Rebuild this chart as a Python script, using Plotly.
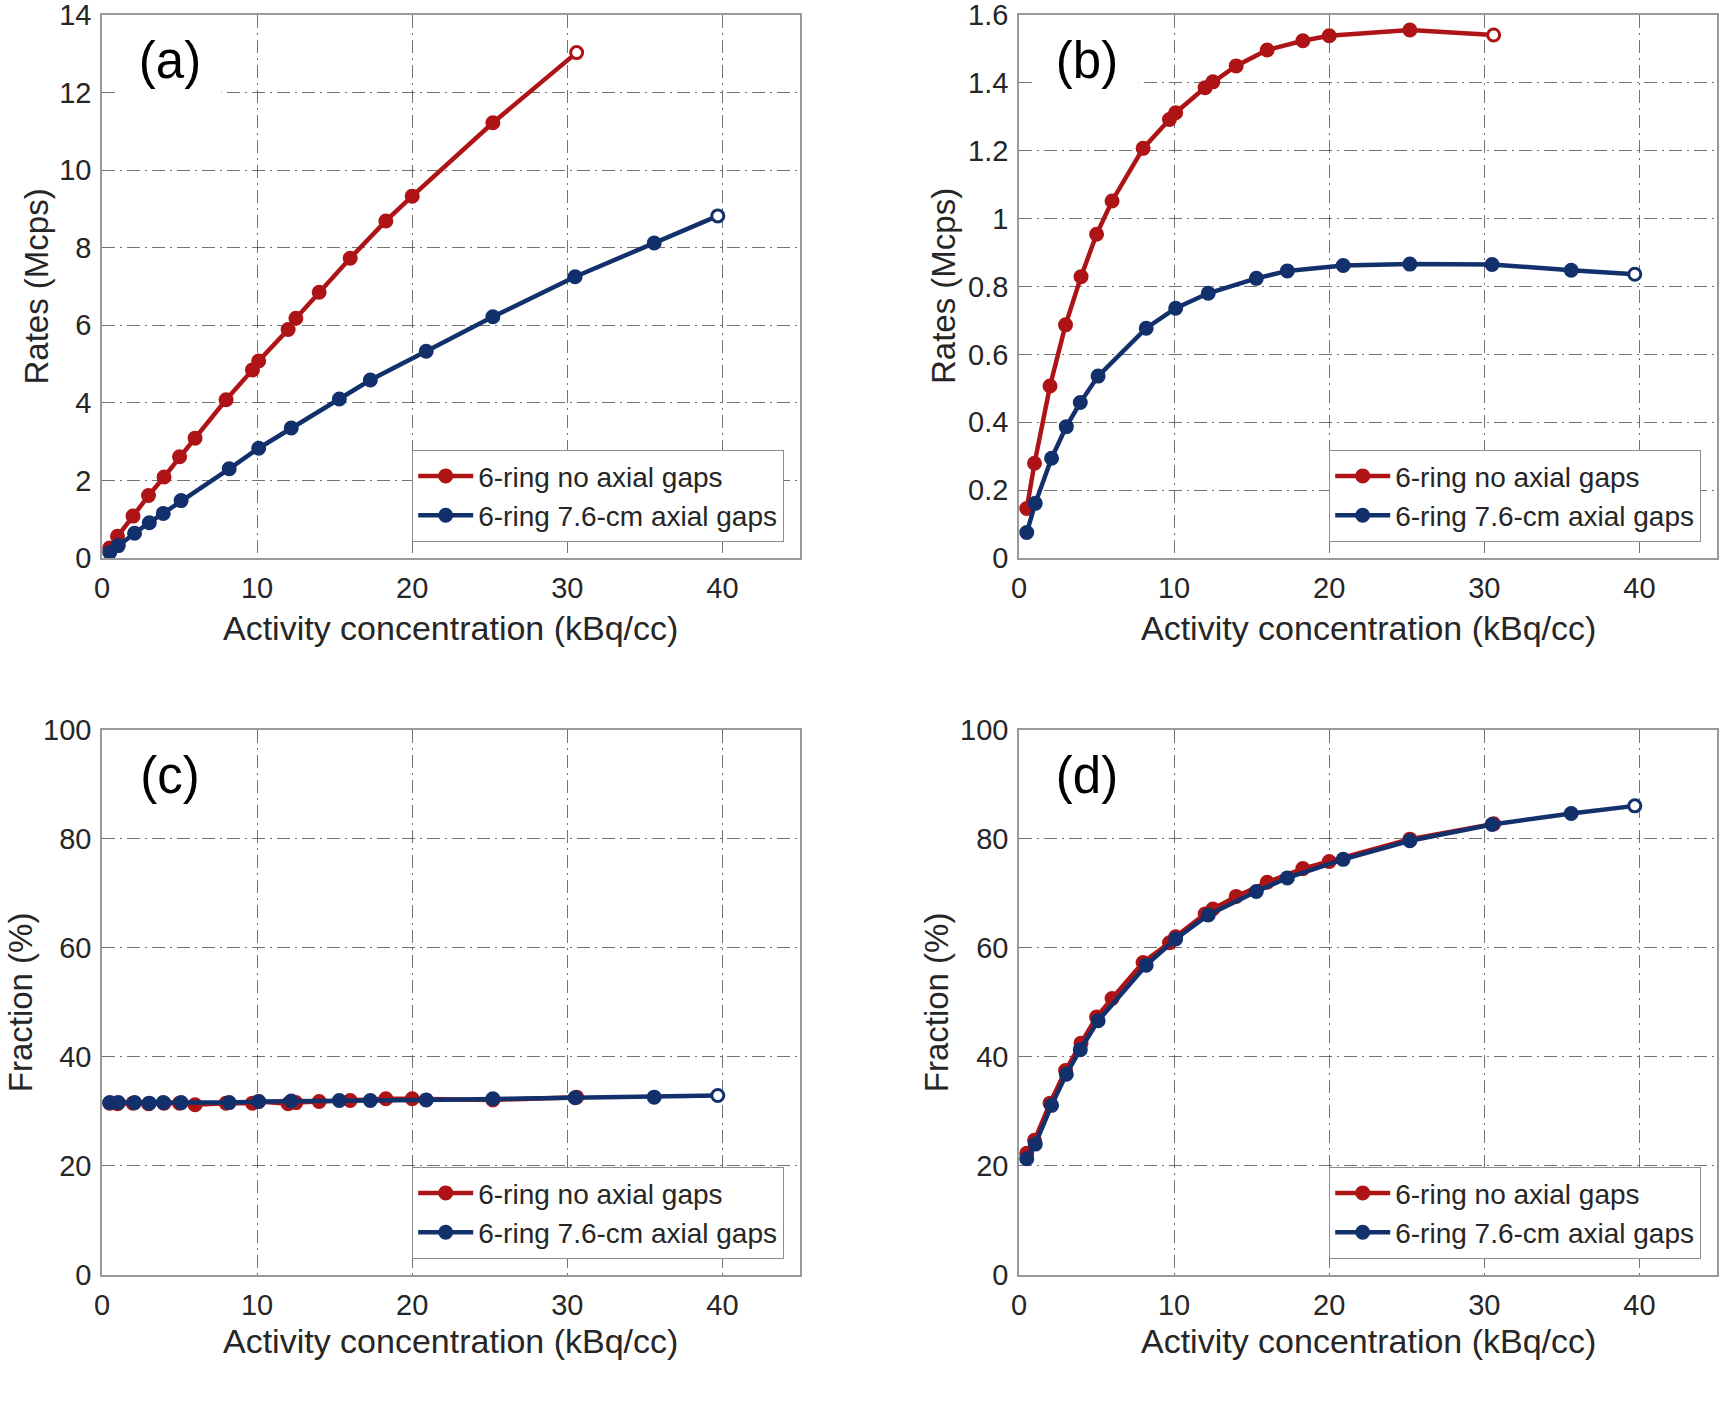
import plotly.graph_objects as go

# ---------------- data ----------------
x_noGap = [0.5, 1.0, 2.0, 3.0, 4.0, 5.0, 6.0, 8.0, 9.7, 10.1, 12.0, 12.5, 14.0, 16.0, 18.3, 20.0, 25.2, 30.6]
x_gap = [0.5, 1.05, 2.1, 3.05, 3.95, 5.1, 8.2, 10.1, 12.2, 15.3, 17.3, 20.9, 25.2, 30.5, 35.6, 39.7]

a_noGap = [0.26, 0.56, 1.08, 1.61, 2.09, 2.61, 3.09, 4.08, 4.85, 5.08, 5.89, 6.18, 6.85, 7.73, 8.69, 9.33, 11.22, 13.03]
a_gap = [0.14, 0.32, 0.64, 0.91, 1.15, 1.48, 2.30, 2.83, 3.35, 4.10, 4.59, 5.33, 6.22, 7.25, 8.12, 8.82]

b_noGap = [0.146, 0.279, 0.507, 0.687, 0.829, 0.954, 1.052, 1.207, 1.292, 1.312, 1.386, 1.403, 1.450, 1.497, 1.524, 1.539, 1.556, 1.541]
b_gap = [0.075, 0.161, 0.294, 0.387, 0.458, 0.536, 0.677, 0.736, 0.780, 0.824, 0.846, 0.862, 0.866, 0.865, 0.848, 0.836]

c_noGap = [31.5, 31.4, 31.5, 31.4, 31.5, 31.5, 31.2, 31.5, 31.5, 31.8, 31.4, 31.6, 31.8, 32.0, 32.3, 32.3, 32.1, 32.6]
c_gap = [31.6, 31.6, 31.6, 31.5, 31.6, 31.6, 31.6, 31.8, 31.9, 32.0, 32.0, 32.1, 32.3, 32.5, 32.6, 32.9]

d_noGap = [22.3, 24.7, 31.5, 37.5, 42.5, 47.3, 50.7, 57.3, 60.9, 62.0, 66.2, 67.1, 69.4, 72.0, 74.5, 75.8, 79.9, 82.7]
d_gap = [21.3, 24.0, 31.1, 36.8, 41.3, 46.6, 56.8, 61.6, 66.0, 70.3, 72.8, 76.2, 79.6, 82.6, 84.6, 86.0]

name_noGap = "6-ring no axial gaps"
name_gap = "6-ring 7.6-cm axial gaps"
panel_labels = ["(a)", "(b)", "(c)", "(d)"]
y_titles = ["Rates (Mcps)", "Rates (Mcps)", "Fraction (%)", "Fraction (%)"]
x_title = "Activity concentration (kBq/cc)"
x_ticks = [0, 10, 20, 30, 40]
y_ticks_a = [0, 2, 4, 6, 8, 10, 12, 14]
y_ticks_b = [0, 0.2, 0.4, 0.6, 0.8, 1.0, 1.2, 1.4, 1.6]
y_ticktext_b = ["0", "0.2", "0.4", "0.6", "0.8", "1", "1.2", "1.4", "1.6"]
y_ticks_cd = [0, 20, 40, 60, 80, 100]

RED = "#AE1416"
BLUE = "#12306B"
W, H = 1720, 1408
FONT = "Liberation Sans, Arial, Helvetica, sans-serif"
TXT = "#262626"

# plot-area rectangles in pixels (left, right, top, bottom)
rects = [
    (102, 800, 15, 558),
    (1019, 1717, 15, 558),
    (102, 800, 729.5, 1275),
    (1019, 1717, 729.5, 1275),
]

fig = go.Figure()

series = [
    (a_noGap, a_gap),
    (b_noGap, b_gap),
    (c_noGap, c_gap),
    (d_noGap, d_gap),
]


def mk_colors(n, c):
    cols = [c] * n
    cols[-1] = "white"
    return cols


for i, (yn, yg) in enumerate(series):
    ax = "" if i == 0 else str(i + 1)
    leg = "legend" if i == 0 else "legend" + str(i + 1)
    fig.add_trace(go.Scatter(
        x=x_noGap, y=yn, mode="lines+markers", name=name_noGap,
        line=dict(color=RED, width=4.5),
        marker=dict(symbol="circle", size=12, color=mk_colors(len(yn), RED),
                    line=dict(color=RED, width=3)),
        xaxis="x" + ax, yaxis="y" + ax, legend=leg, showlegend=True,
    ))
    fig.add_trace(go.Scatter(
        x=x_gap, y=yg, mode="lines+markers", name=name_gap,
        line=dict(color=BLUE, width=4.5),
        marker=dict(symbol="circle", size=12, color=mk_colors(len(yg), BLUE),
                    line=dict(color=BLUE, width=3)),
        xaxis="x" + ax, yaxis="y" + ax, legend=leg, showlegend=True,
    ))

layout = dict(
    width=W, height=H, margin=dict(l=0, r=0, t=0, b=0, autoexpand=False),
    paper_bgcolor="white", plot_bgcolor="white",
    font=dict(family=FONT, color=TXT, size=28),
    showlegend=True,
)

grid_common = dict(
    showgrid=True, gridcolor="rgba(80,80,80,0.8)", gridwidth=1.3,
    griddash="13px,5px,2px,5px",
    showline=True, linecolor="#9a9a9a", linewidth=1.5, mirror=True,
    zeroline=False, ticks="", automargin=False, ticklabeloverflow="allow",
    tickfont=dict(family=FONT, size=29, color=TXT),
)

annotations = []
for i, (l, r, t, b) in enumerate(rects):
    ax = "" if i == 0 else str(i + 1)
    xd = [l / W, r / W]
    yd = [1 - b / H, 1 - t / H]
    if i == 0:
        yv, yt, yr = y_ticks_a, [str(v) for v in y_ticks_a], [0, 14]
    elif i == 1:
        yv, yt, yr = y_ticks_b, y_ticktext_b, [0, 1.6]
    else:
        yv, yt, yr = y_ticks_cd, [str(v) for v in y_ticks_cd], [0, 100]
    layout["xaxis" + ax] = dict(
        domain=xd, range=[0, 45], tickvals=x_ticks, ticktext=[str(v) for v in x_ticks],
        anchor="y" + ax, ticklabelstandoff=3, **grid_common)
    layout["yaxis" + ax] = dict(
        domain=yd, range=yr, tickvals=yv, ticktext=yt,
        anchor="x" + ax, ticklabelstandoff=3, **grid_common)

    # legend
    leg = "legend" if i == 0 else "legend" + str(i + 1)
    layout[leg] = dict(
        x=(r - 16) / W, y=1 - (b - 16) / H, xanchor="right", yanchor="bottom",
        xref="paper", yref="paper",
        bgcolor="white", bordercolor="#8c8c8c", borderwidth=1.2,
        font=dict(family=FONT, size=28, color=TXT),
        itemwidth=55, tracegroupgap=0,
    )

    # panel label
    annotations.append(dict(
        text=panel_labels[i], x=(l + 68) / W, y=1 - (t + 45) / H,
        xref="paper", yref="paper", xanchor="center", yanchor="middle",
        showarrow=False, font=dict(family=FONT, size=51, color="black"),
        bgcolor="white", width=100, height=70,
    ))
    # x title
    xt_off = 69.5 if i < 2 else 66
    annotations.append(dict(
        text=x_title, x=(l + r) / 2 / W, y=1 - (b + xt_off) / H,
        xref="paper", yref="paper", xanchor="center", yanchor="middle",
        showarrow=False, font=dict(family=FONT, size=34, color=TXT),
    ))
    # y title
    ytx = [36, 943.5, 20, 936][i]
    annotations.append(dict(
        text=y_titles[i], x=ytx / W, y=1 - (t + b) / 2 / H,
        xref="paper", yref="paper", xanchor="center", yanchor="middle",
        textangle=-90, showarrow=False, font=dict(family=FONT, size=33, color=TXT),
    ))

layout["annotations"] = annotations
fig.update_layout(**layout)
fig.write_html("out.html")
